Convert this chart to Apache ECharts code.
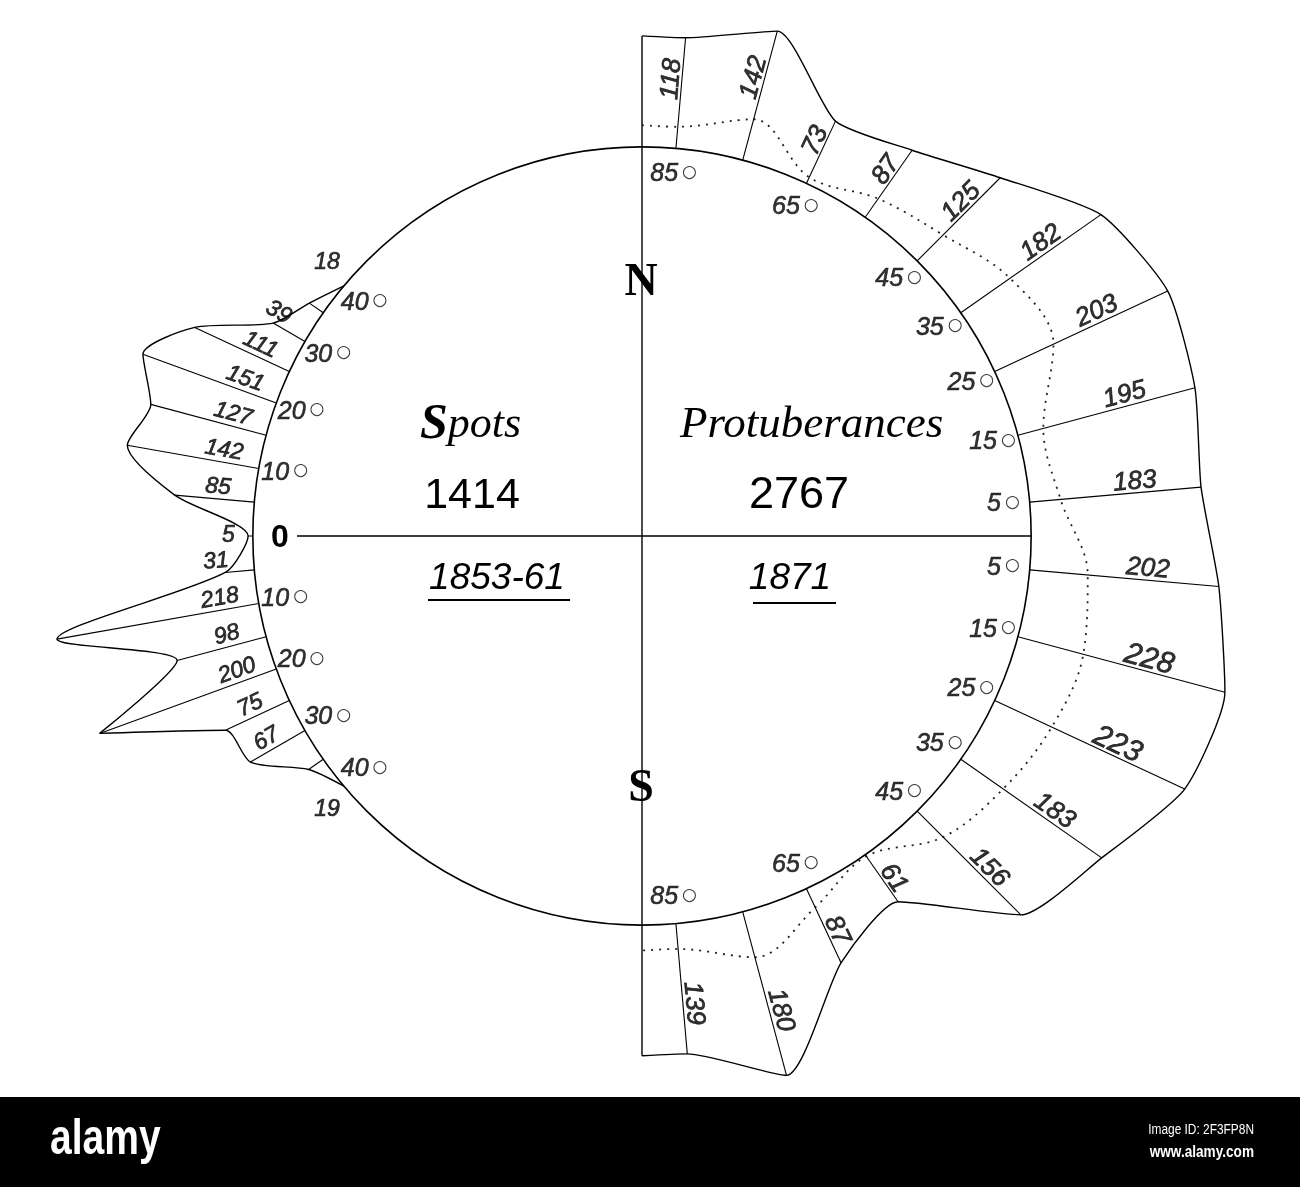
<!DOCTYPE html>
<html><head><meta charset="utf-8">
<style>html,body{margin:0;padding:0;background:#fff}#c{width:1300px;height:1187px}</style>
<script src="https://cdn.jsdelivr.net/npm/echarts@6/dist/echarts.min.js"></script>
</head><body><div id="c"></div>
<script>
// ---- DATA ----
// Spots 1853-61: count written on each radial line, by latitude (degrees)
const spotLatNorth = [0, 5, 10, 15, 20, 25, 30, 35];
const spotCountNorth = [5, 85, 142, 127, 151, 111, 39, 18];
const spotLatSouth = [5, 10, 15, 20, 25, 30, 35];
const spotCountSouth = [31, 218, 98, 200, 75, 67, 19];
const spotEdgeLat = 40;

// Protuberances 1871
const protLat = [5, 15, 25, 35, 45, 55, 65, 75, 85];
const protNorth = [183, 195, 203, 182, 125, 87, 73, 142, 118];
const protSouth = [202, 228, 223, 183, 156, 61, 87, 180, 139];
// dotted inner profile (unlabelled)
const dotNorth = [33, 28, 69, 64, 39, 24, 7, 45, 23];
const dotSouth = [62, 72, 67, 55, 39, 2, 22, 50, 27];

// degree tick labels
const tickRight = ['5', '15', '25', '35', '45', '65', '85'];
const tickLeft = ['10', '20', '30', '40'];

// ---- LAYOUT ----
const PX = 0.94, R0 = 414, RMAX = 250, CX = 642, CY = 536;
const INK = '#000';
const numFont = '"Liberation Sans", Arial, sans-serif';
const serif = '"Liberation Serif", "DejaVu Serif", serif';

const series = [];
function addLine(data, opts) {
  series.push(Object.assign({
    type: 'line', coordinateSystem: 'polar', polarIndex: 0, data: data,
    symbol: 'none', silent: true, animation: false, clip: false,
    lineStyle: { color: INK, width: 1.2 }
  }, opts || {}));
}

// protuberance outline
const protOutline = [[protNorth[protNorth.length - 1], 90]];
for (let i = protLat.length - 1; i >= 0; i--) protOutline.push([protNorth[i], protLat[i]]);
for (let i = 0; i < protLat.length; i++) protOutline.push([protSouth[i], 360 - protLat[i]]);
protOutline.push([protSouth[protSouth.length - 1], 270]);
addLine(protOutline, { smooth: 0.2, lineStyle: { color: INK, width: 1.4 } });

// dotted profile
const dotLine = [[dotNorth[dotNorth.length - 1], 90]];
for (let i = protLat.length - 1; i >= 0; i--) dotLine.push([dotNorth[i], protLat[i]]);
for (let i = 0; i < protLat.length; i++) dotLine.push([dotSouth[i], 360 - protLat[i]]);
dotLine.push([dotSouth[dotSouth.length - 1], 270]);
addLine(dotLine, { smooth: 0.35, lineStyle: { color: '#222', width: 1.8, type: [2, 6] } });

// spots outline
const spotOutline = [[0, 180 - spotEdgeLat]];
for (let i = spotLatNorth.length - 1; i >= 0; i--) spotOutline.push([spotCountNorth[i], 180 - spotLatNorth[i]]);
for (let i = 0; i < spotLatSouth.length; i++) spotOutline.push([spotCountSouth[i], 180 + spotLatSouth[i]]);
spotOutline.push([0, 180 + spotEdgeLat]);
addLine(spotOutline, { smooth: 0.25, lineStyle: { color: INK, width: 1.4 } });

// radial lines + value labels
const labelData = [];
function radial(v, ang, rot, lblR, lblAng, size) {
  addLine([[0, ang], [v, ang]], { lineStyle: { color: INK, width: 1.1 } });
  labelData.push({ name: String(v), value: [lblR, lblAng],
    label: { rotate: rot, fontSize: size } });
}
protLat.forEach((lat, i) => {
  const sN = protNorth[i] > 210 ? 30 : 26, sS = protSouth[i] > 210 ? 30 : 26;
  radial(protNorth[i], lat, lat, protNorth[i] * 0.62, lat + 1.3, sN);
  radial(protSouth[i], 360 - lat, -lat, protSouth[i] * 0.62, 360 - lat + 1.3, sS);
});
spotLatNorth.forEach((lat, i) => {
  const a = 180 - lat;
  const last = i === spotLatNorth.length - 1;
  const lr = lat === 0 ? 26 : (last ? 30 : 40);
  const la = lat === 0 ? a : (last ? 180 - spotEdgeLat - 1 : a - 1.6);
  radial(spotCountNorth[i], a, last ? 0 : a - 180, lr, la, 23);
});
spotLatSouth.forEach((lat, i) => {
  const a = 180 + lat;
  const last = i === spotLatSouth.length - 1;
  radial(spotCountSouth[i], a, last ? 0 : a - 180, last ? 30 : 40,
    last ? 180 + spotEdgeLat + 1 : a - 1.6, 23);
});
series.push({
  type: 'scatter', coordinateSystem: 'polar', polarIndex: 0, silent: true, animation: false,
  symbolSize: 0, itemStyle: { color: INK }, data: labelData,
  label: { show: true, position: 'inside', formatter: '{b}', color: INK,
    fontFamily: numFont, fontStyle: 'italic', textBorderColor: INK, textBorderWidth: 0.7 }
});

// degree tick labels (inside circle)
const tickData = [];
tickRight.forEach(t => {
  const lat = +t;
  tickData.push({ name: t, value: [-28, lat] });
  tickData.push({ name: t, value: [-28, 360 - lat] });
});
tickLeft.forEach(t => {
  const lat = +t;
  tickData.push({ name: t, value: [-28, 180 - lat] });
  tickData.push({ name: t, value: [-28, 180 + lat] });
});
series.push({
  type: 'scatter', coordinateSystem: 'polar', polarIndex: 0, silent: true, animation: false,
  symbolSize: 0, itemStyle: { color: INK }, data: tickData,
  label: { show: true, position: 'inside', formatter: p => '{n|' + p.name + '}{d|○}',
    rich: {
      n: { fontSize: 25, fontStyle: 'italic', fontFamily: numFont, color: INK,
           textBorderColor: INK, textBorderWidth: 0.6 },
      d: { fontSize: 17, fontFamily: '"DejaVu Sans", sans-serif', color: INK, padding: [0, 0, 4, 4] }
    } }
});

// axes: N–S vertical line and equator
addLine([[protNorth[protNorth.length - 1], 90], [-R0, 90], [protSouth[protSouth.length - 1], 270]],
  { lineStyle: { color: INK, width: 1.4 } });
addLine([[-47, 180], [-R0, 0], [0, 0]], { lineStyle: { color: INK, width: 1.5 } });

function txt(text, x, y, size, opts) {
  return { type: 'text', silent: true, style: Object.assign({
    text: text, x: x, y: y, fontSize: size, fontFamily: numFont, fill: INK,
    textAlign: 'center', textVerticalAlign: 'middle' }, opts || {}) };
}

const option = {
  backgroundColor: '#fff',
  animation: false,
  polar: [
    { center: [CX, CY], radius: (R0 + RMAX) * PX },
    { center: [CX, CY], radius: R0 * PX }
  ],
  angleAxis: [
    { polarIndex: 0, type: 'value', min: 0, max: 360, startAngle: 0, clockwise: false,
      axisLine: { show: false }, axisTick: { show: false }, axisLabel: { show: false }, splitLine: { show: false } },
    { polarIndex: 1, type: 'value', min: 0, max: 360, startAngle: 0, clockwise: false,
      axisLine: { show: true, lineStyle: { color: INK, width: 1.6 } },
      axisTick: { show: false }, axisLabel: { show: false }, splitLine: { show: false } }
  ],
  radiusAxis: [
    { polarIndex: 0, type: 'value', min: -R0, max: RMAX,
      axisLine: { show: false }, axisTick: { show: false }, axisLabel: { show: false }, splitLine: { show: false } },
    { polarIndex: 1, type: 'value', min: 0, max: 1,
      axisLine: { show: false }, axisTick: { show: false }, axisLabel: { show: false }, splitLine: { show: false } }
  ],
  series: series,
  graphic: [
    txt('N', 641, 283, 46, { fontFamily: serif, fontWeight: 'bold' }),
    txt('S', 641, 789, 46, { fontFamily: serif, fontWeight: 'bold' }),
    txt('0', 280, 538, 32, { fontWeight: 'bold' }),
    { type: 'text', silent: true, style: {
        text: '{s|S}{p|pots}', x: 420, y: 425, textVerticalAlign: 'middle',
        rich: { s: { fontSize: 50, fontFamily: serif, fontWeight: 'bold', fontStyle: 'italic', fill: INK },
                p: { fontSize: 44, fontFamily: serif, fontStyle: 'italic', fill: INK } } } },
    txt('Protuberances', 680, 425, 45, { fontFamily: serif, fontStyle: 'italic', textAlign: 'left' }),
    txt('1414', 472, 496, 43),
    txt('2767', 799, 496, 45),
    txt('1853-61', 497, 579, 37, { fontStyle: 'italic' }),
    txt('1871', 790, 579, 37, { fontStyle: 'italic' }),
    { type: 'line', silent: true, shape: { x1: 428, y1: 600, x2: 570, y2: 600 }, style: { stroke: INK, lineWidth: 2 } },
    { type: 'line', silent: true, shape: { x1: 753, y1: 603, x2: 836, y2: 603 }, style: { stroke: INK, lineWidth: 2 } },
    { type: 'rect', silent: true, shape: { x: 0, y: 1097, width: 1300, height: 90 }, style: { fill: '#000' } },
    { type: 'text', silent: true, x: 50, y: 1140, scaleX: 0.78, style: {
        text: 'alamy', x: 0, y: 0, fontSize: 50, fontWeight: 'bold',
        fontFamily: '"Liberation Sans", sans-serif', fill: '#fff', textAlign: 'left', textVerticalAlign: 'middle' } },
    { type: 'text', silent: true, x: 1254, y: 1130, scaleX: 0.85, style: {
        text: 'Image ID: 2F3FP8N', x: 0, y: 0, fontSize: 14, fontFamily: numFont, fill: '#fff',
        textAlign: 'right', textVerticalAlign: 'middle' } },
    { type: 'text', silent: true, x: 1254, y: 1153, scaleX: 0.85, style: {
        text: 'www.alamy.com', x: 0, y: 0, fontSize: 16, fontWeight: 'bold', fontFamily: numFont, fill: '#fff',
        textAlign: 'right', textVerticalAlign: 'middle' } }
  ]
};
const chart = echarts.init(document.getElementById('c'), null, { renderer: 'canvas' });
chart.setOption(option);
</script>
</body></html>
